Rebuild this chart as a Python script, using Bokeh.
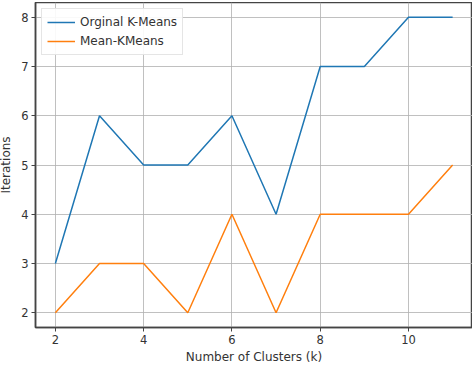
from bokeh.plotting import figure
from bokeh.models import Range1d, FixedTicker, Legend, LegendItem
from bokeh.embed import file_html
from bokeh.resources import INLINE

k_values = [2, 3, 4, 5, 6, 7, 8, 9, 10, 11]
original_kmeans = [3, 6, 5, 5, 6, 4, 7, 7, 8, 8]
mean_kmeans = [2, 3, 3, 2, 4, 2, 4, 4, 4, 5]
x_ticks = [2, 4, 6, 8, 10]
y_ticks = [2, 3, 4, 5, 6, 7, 8]

p = figure(width=476, height=364, output_backend="svg", toolbar_location=None,
           x_range=Range1d(1.55, 11.45), y_range=Range1d(1.7, 8.3),
           min_border_left=2, min_border_right=0, min_border_top=0, min_border_bottom=0)
p.margin = (2, -12, -12, -4)

font = "DejaVu Sans"
r1 = p.line(k_values, original_kmeans, line_color="#1f77b4", line_width=1.5)
r2 = p.line(k_values, mean_kmeans, line_color="#ff7f0e", line_width=1.5)

p.xaxis.ticker = FixedTicker(ticks=x_ticks)
p.yaxis.ticker = FixedTicker(ticks=y_ticks)
for ax in (p.xaxis[0], p.yaxis[0]):
    ax.major_label_text_font = font
    ax.major_label_text_font_size = "11.5px"
    ax.major_label_text_color = "#333333"
    ax.axis_label_text_font = font
    ax.axis_label_text_font_size = "12px"
    ax.axis_label_text_font_style = "normal"
    ax.axis_label_text_color = "#333333"
    ax.minor_tick_line_color = None
    ax.major_tick_out = 4
    ax.major_tick_in = 0
    ax.axis_line_color = "#444444"
    ax.major_tick_line_color = "#444444"
    ax.axis_line_width = 1.5
p.xaxis.axis_label = "Number of Clusters (k)"
p.yaxis.axis_label = "Iterations"
p.xaxis.axis_label_standoff = 3
p.yaxis.axis_label_standoff = 5
p.yaxis.major_label_standoff = 3
p.xaxis.major_label_standoff = 3

p.xgrid.grid_line_color = "#b0b0b0"
p.ygrid.grid_line_color = "#b0b0b0"
p.xgrid.grid_line_alpha = 0.8
p.ygrid.grid_line_alpha = 0.8
p.outline_line_color = "#444444"
p.outline_line_width = 1.5

legend = Legend(items=[LegendItem(label="Orginal K-Means", renderers=[r1]),
                       LegendItem(label="Mean-KMeans", renderers=[r2])],
                location="top_left")
legend.label_text_font = font
legend.label_text_font_size = "12px"
legend.label_text_color = "#333333"
legend.border_line_color = "#cccccc"
legend.background_fill_alpha = 0.9
legend.glyph_width = 28
legend.spacing = 3
legend.padding = 5
legend.margin = 6
legend.label_height = 16
legend.glyph_height = 16
p.add_layout(legend)

open("out.html", "w").write(file_html(p, INLINE))
